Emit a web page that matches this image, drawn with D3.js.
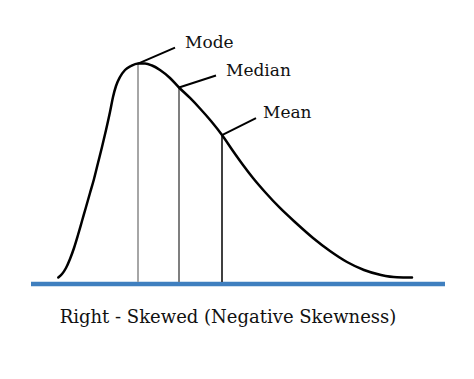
<!DOCTYPE html>
<html>
<head>
<meta charset="utf-8">
<script src="https://cdn.jsdelivr.net/npm/d3@7"></script>
<style>
  html, body { margin: 0; padding: 0; background: #ffffff; }
  svg { display: block; }
</style>
</head>
<body>
<svg id="chart" width="474" height="379"></svg>
<script>
// Curve samples (x position on 0–100 scale, relative density 0–100)
const curveX = [6.59, 7.49, 8.45, 9.42, 10.39, 11.35, 12.32, 13.29, 14.25, 15.22, 16.18, 17.15, 18.12, 19.08, 19.81, 20.53, 21.50, 22.71, 24.15, 25.85, 27.54, 29.23, 31.16, 33.57, 35.75, 38.41, 40.82, 43.48, 46.14, 48.79, 51.21, 53.62, 56.52, 60.14, 64.01, 68.12, 72.22, 76.33, 80.43, 84.54, 88.41, 92.03];
const curveY = [2.95, 4.55, 7.27, 11.36, 16.36, 22.27, 28.64, 35.0, 41.36, 47.73, 55.0, 62.27, 70.0, 78.18, 85.0, 90.0, 94.09, 97.27, 99.09, 100.23, 100.23, 99.32, 97.27, 93.64, 89.32, 84.55, 79.77, 74.09, 67.73, 60.45, 54.09, 48.18, 41.82, 34.55, 27.73, 20.91, 15.0, 10.0, 6.36, 4.09, 3.05, 2.95];

// Central-tendency markers
const markerNames = ["Mode", "Median", "Mean"];
const markerX = [25.85, 35.75, 46.14];
const markerY = [100.2, 89.3, 67.7];

const titleText = "Right - Skewed (Negative Skewness)";

const svg = d3.select("#chart");

const x = d3.scaleLinear().domain([0, 100]).range([31, 445]);
const y = d3.scaleLinear().domain([0, 100]).range([284, 64]);

const pts = curveX.map((d, i) => [d, curveY[i]]);

// Baseline axis
svg.append("line")
  .attr("x1", x(0)).attr("x2", x(100))
  .attr("y1", y(0)).attr("y2", y(0))
  .attr("stroke", "#3f7fbf")
  .attr("stroke-width", 4.5);

// Vertical marker lines
const markerColors = ["#a6a6a6", "#7f7f7f", "#404040"];
markerNames.forEach((name, i) => {
  svg.append("line")
    .attr("x1", x(markerX[i])).attr("x2", x(markerX[i]))
    .attr("y1", y(markerY[i])).attr("y2", y(0) - 2)
    .attr("stroke", markerColors[i])
    .attr("stroke-width", 2);
});

// Curve
svg.append("path")
  .datum(pts)
  .attr("fill", "none")
  .attr("stroke", "#000")
  .attr("stroke-width", 2.5)
  .attr("stroke-linecap", "round")
  .attr("d", d3.line().x(d => x(d[0])).y(d => y(d[1])).curve(d3.curveMonotoneX));

// Leader lines and labels
const leaderDx = [37, 37, 34];
const leaderDy = [-16, -12, -17];
const labelGap = [10, 10, 7];
markerNames.forEach((name, i) => {
  const x0 = x(markerX[i]), y0 = y(markerY[i]);
  const x1 = x0 + leaderDx[i], y1 = y0 + leaderDy[i];
  svg.append("line")
    .attr("x1", x0).attr("y1", y0)
    .attr("x2", x1).attr("y2", y1)
    .attr("stroke", "#000")
    .attr("stroke-width", 2);
  svg.append("text")
    .attr("x", x1 + labelGap[i])
    .attr("y", y1)
    .attr("font-family", "'DejaVu Serif', serif")
    .attr("font-size", 17)
    .attr("fill", "#111")
    .text(name);
});

// Title
svg.append("text")
  .attr("x", 228)
  .attr("y", 323)
  .attr("text-anchor", "middle")
  .attr("font-family", "'DejaVu Serif', serif")
  .attr("font-size", 18)
  .attr("fill", "#111")
  .text(titleText);
</script>
</body>
</html>
